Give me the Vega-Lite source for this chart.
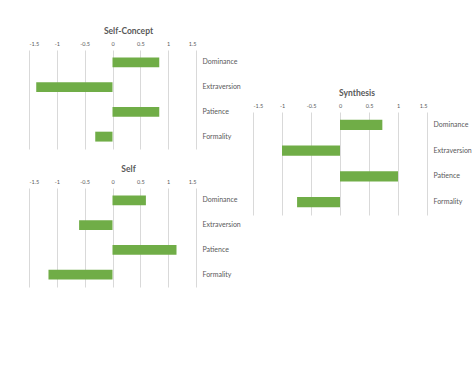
{
  "$schema": "https://vega.github.io/schema/vega-lite/v6.json",
  "background": "white",
  "padding": {"left": 29, "top": 26, "right": 5, "bottom": 5},
  "config": {
    "font": "Lato",
    "view": {"stroke": null},
    "axis": {"labelColor": "#595959", "gridColor": "#d9d9d9", "gridWidth": 1},
    "title": {"fontSize": 8.5, "color": "#595959", "fontWeight": "bold", "offset": 6}
  },
  "data": {
    "values": [
      {"chart": "Self-Concept", "trait": "Dominance", "value": 0.84},
      {"chart": "Self-Concept", "trait": "Extraversion", "value": -1.37},
      {"chart": "Self-Concept", "trait": "Patience", "value": 0.84},
      {"chart": "Self-Concept", "trait": "Formality", "value": -0.31},
      {"chart": "Self", "trait": "Dominance", "value": 0.6},
      {"chart": "Self", "trait": "Extraversion", "value": -0.6},
      {"chart": "Self", "trait": "Patience", "value": 1.15},
      {"chart": "Self", "trait": "Formality", "value": -1.15},
      {"chart": "Synthesis", "trait": "Dominance", "value": 0.73},
      {"chart": "Synthesis", "trait": "Extraversion", "value": -1.0},
      {"chart": "Synthesis", "trait": "Patience", "value": 1.0},
      {"chart": "Synthesis", "trait": "Formality", "value": -0.74}
    ]
  },
  "spacing": 12,
  "hconcat": [
    {
      "spacing": 15,
      "vconcat": [
        {
          "title": {"text": "Self-Concept", "dx": 16},
          "width": 167,
          "height": 99,
          "transform": [{"filter": "datum.chart === 'Self-Concept'"}],
          "mark": {"type": "bar", "color": "#70AD47"},
          "encoding": {
            "y": {"field": "trait", "type": "nominal", "sort": ["Dominance", "Extraversion", "Patience", "Formality"],
                  "scale": {"paddingInner": 0.6, "paddingOuter": 0.3},
                  "axis": {"orient": "right", "title": null, "domain": false, "ticks": false, "labelPadding": 6, "labelFontSize": 7}},
            "x": {"field": "value", "type": "quantitative", "scale": {"domain": [-1.5, 1.5], "nice": false},
                  "axis": {"orient": "top", "values": [-1.5, -1, -0.5, 0, 0.5, 1, 1.5], "labelExpr": "'' + datum.value", "title": null, "domain": false, "ticks": false, "labelFontSize": 5.5, "labelPadding": 4, "grid": true}}
          }
        },
        {
          "title": {"text": "Self", "dx": 16},
          "width": 167,
          "height": 99,
          "transform": [{"filter": "datum.chart === 'Self'"}],
          "mark": {"type": "bar", "color": "#70AD47"},
          "encoding": {
            "y": {"field": "trait", "type": "nominal", "sort": ["Dominance", "Extraversion", "Patience", "Formality"],
                  "scale": {"paddingInner": 0.6, "paddingOuter": 0.3},
                  "axis": {"orient": "right", "title": null, "domain": false, "ticks": false, "labelPadding": 6, "labelFontSize": 7}},
            "x": {"field": "value", "type": "quantitative", "scale": {"domain": [-1.5, 1.5], "nice": false},
                  "axis": {"orient": "top", "values": [-1.5, -1, -0.5, 0, 0.5, 1, 1.5], "labelExpr": "'' + datum.value", "title": null, "domain": false, "ticks": false, "labelFontSize": 5.5, "labelPadding": 4, "grid": true}}
          }
        }
      ]
    },
    {
      "spacing": 20,
      "vconcat": [
        {
          "width": 174,
          "height": 18,
          "data": {"values": []},
          "mark": {"type": "point", "opacity": 0},
          "encoding": {}
        },
        {
          "title": {"text": "Synthesis", "dx": 17},
          "width": 174,
          "height": 103,
          "transform": [{"filter": "datum.chart === 'Synthesis'"}],
          "mark": {"type": "bar", "color": "#70AD47"},
          "encoding": {
            "y": {"field": "trait", "type": "nominal", "sort": ["Dominance", "Extraversion", "Patience", "Formality"],
                  "scale": {"paddingInner": 0.6, "paddingOuter": 0.3},
                  "axis": {"orient": "right", "title": null, "domain": false, "ticks": false, "labelPadding": 6, "labelFontSize": 7}},
            "x": {"field": "value", "type": "quantitative", "scale": {"domain": [-1.5, 1.5], "nice": false},
                  "axis": {"orient": "top", "values": [-1.5, -1, -0.5, 0, 0.5, 1, 1.5], "labelExpr": "'' + datum.value", "title": null, "domain": false, "ticks": false, "labelFontSize": 5.5, "labelPadding": 4, "grid": true}}
          }
        }
      ]
    }
  ]
}
